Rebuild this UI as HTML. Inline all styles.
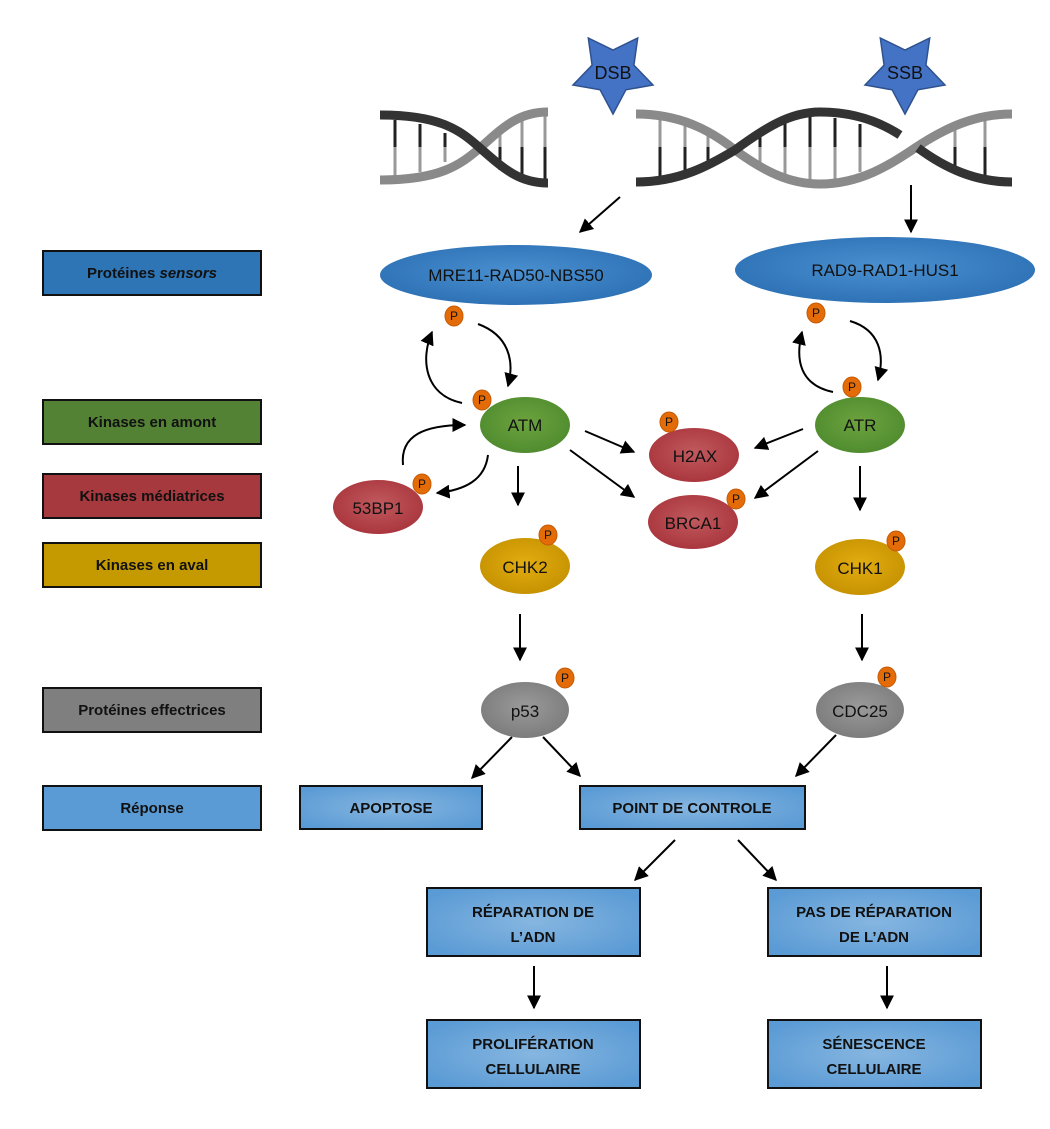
<!DOCTYPE html>
<html><head><meta charset="utf-8"><style>
html,body{margin:0;padding:0;background:#fff;}
svg{display:block;}
text{font-family:"Liberation Sans",sans-serif;}
</style></head><body>
<svg width="1050" height="1129" viewBox="0 0 1050 1129" xmlns="http://www.w3.org/2000/svg">
<defs>
<marker id="ah" viewBox="0 0 10 10" markerWidth="14" markerHeight="14" refX="9" refY="5" orient="auto" markerUnits="userSpaceOnUse"><path d="M0,0 L10,5 L0,10 Z" fill="#000"/></marker>
<radialGradient id="gb" cx="50%" cy="50%" r="60%"><stop offset="0" stop-color="#86b6e0"/><stop offset="1" stop-color="#5b9bd5"/></radialGradient>
<radialGradient id="ggr" cx="50%" cy="45%" r="60%"><stop offset="0" stop-color="#6da33f"/><stop offset="1" stop-color="#4d8a2d"/></radialGradient>
<radialGradient id="gr" cx="50%" cy="45%" r="60%"><stop offset="0" stop-color="#c05a5e"/><stop offset="1" stop-color="#a8333b"/></radialGradient>
<radialGradient id="gy" cx="50%" cy="45%" r="60%"><stop offset="0" stop-color="#e2ad10"/><stop offset="1" stop-color="#c49000"/></radialGradient>
<radialGradient id="gg" cx="50%" cy="45%" r="60%"><stop offset="0" stop-color="#9a9a9a"/><stop offset="1" stop-color="#7a7a7a"/></radialGradient>
<radialGradient id="gbl" cx="50%" cy="45%" r="60%"><stop offset="0" stop-color="#4a90d0"/><stop offset="1" stop-color="#2c70b4"/></radialGradient>
</defs>

<!-- Legend -->
<g stroke="#111" stroke-width="2" font-weight="bold" font-size="15" text-anchor="middle">
<rect x="43" y="251" width="218" height="44" fill="#2e75b6"/>
<rect x="43" y="400" width="218" height="44" fill="#548235"/>
<rect x="43" y="474" width="218" height="44" fill="#a5393d"/>
<rect x="43" y="543" width="218" height="44" fill="#c49a00"/>
<rect x="43" y="688" width="218" height="44" fill="#7f7f7f"/>
<rect x="43" y="786" width="218" height="44" fill="#5b9bd5"/>
</g>
<g font-weight="bold" font-size="15" text-anchor="middle" fill="#111">
<text x="152" y="278">Protéines <tspan font-style="italic">sensors</tspan></text>
<text x="152" y="427">Kinases en amont</text>
<text x="152" y="501">Kinases médiatrices</text>
<text x="152" y="570">Kinases en aval</text>
<text x="152" y="715">Protéines effectrices</text>
<text x="152" y="813">Réponse</text>
</g>

<!-- DNA left -->
<g fill="none" stroke-linecap="butt">
<g stroke="#222" stroke-width="3">
<line x1="395" y1="120" x2="395" y2="147"/><line x1="420" y1="124" x2="420" y2="147"/><line x1="445" y1="133" x2="445" y2="147"/>
<line x1="500" y1="147" x2="500" y2="170"/><line x1="522" y1="147" x2="522" y2="178"/><line x1="545" y1="147" x2="545" y2="182"/>
</g>
<g stroke="#999" stroke-width="3">
<line x1="395" y1="147" x2="395" y2="178"/><line x1="420" y1="147" x2="420" y2="172"/><line x1="445" y1="147" x2="445" y2="162"/>
<line x1="500" y1="126" x2="500" y2="147"/><line x1="522" y1="117" x2="522" y2="147"/><line x1="545" y1="113" x2="545" y2="147"/>
</g>
<path d="M380,180 C440,180 460,165 480,148 C505,125 520,112 548,112" stroke="#8a8a8a" stroke-width="9"/>
<path d="M380,115 C440,115 460,130 480,148 C505,170 520,183 548,183" stroke="#333" stroke-width="9"/>
</g>
<!-- DNA right -->
<g fill="none">
<g stroke="#222" stroke-width="3">
<line x1="660" y1="147" x2="660" y2="182"/><line x1="685" y1="147" x2="685" y2="176"/><line x1="708" y1="147" x2="708" y2="166"/>
<line x1="760" y1="130" x2="760" y2="147"/><line x1="785" y1="120" x2="785" y2="147"/><line x1="810" y1="116" x2="810" y2="147"/><line x1="835" y1="118" x2="835" y2="147"/><line x1="860" y1="124" x2="860" y2="147"/>
<line x1="955" y1="147" x2="955" y2="172"/><line x1="985" y1="147" x2="985" y2="180"/>
</g>
<g stroke="#999" stroke-width="3">
<line x1="660" y1="114" x2="660" y2="147"/><line x1="685" y1="118" x2="685" y2="147"/><line x1="708" y1="128" x2="708" y2="147"/>
<line x1="760" y1="147" x2="760" y2="166"/><line x1="785" y1="147" x2="785" y2="176"/><line x1="810" y1="147" x2="810" y2="181"/><line x1="835" y1="147" x2="835" y2="180"/><line x1="860" y1="147" x2="860" y2="172"/>
<line x1="955" y1="124" x2="955" y2="147"/><line x1="985" y1="116" x2="985" y2="147"/>
</g>
<path d="M636,114 C680,114 710,130 735,150 C765,172 790,184 820,184 C860,184 890,165 915,148 C945,128 975,114 1012,114" stroke="#8a8a8a" stroke-width="9"/>
<path d="M636,182 C680,182 710,165 735,150 C765,128 790,112 820,112 C855,112 880,122 900,135" stroke="#333" stroke-width="9"/>
<path d="M918,148 C945,168 975,182 1012,182" stroke="#333" stroke-width="9"/>
</g>

<!-- Stars -->
<g fill="#4472c4" stroke="#2f528f" stroke-width="1.5">
<polygon points="613,114 600.1,89.8 573,85 592.1,65.2 588.3,38 613,50 637.7,38 633.9,65.2 653,85 625.9,89.8"/>
<polygon transform="translate(292,0)" points="613,114 600.1,89.8 573,85 592.1,65.2 588.3,38 613,50 637.7,38 633.9,65.2 653,85 625.9,89.8"/>
</g>
<g font-size="18" text-anchor="middle" fill="#111"><text x="613" y="79">DSB</text><text x="905" y="79">SSB</text></g>

<!-- Arrows -->
<g stroke="#000" stroke-width="2" fill="none" marker-end="url(#ah)">
<line x1="620" y1="197" x2="580" y2="232"/>
<line x1="911" y1="185" x2="911" y2="232"/>
<path d="M478,324 C508,335 515,360 508,386"/>
<path d="M462,403 C425,395 420,360 432,332"/>
<path d="M850,321 C880,330 885,355 878,380"/>
<path d="M833,392 C800,385 795,360 802,332"/>
<path d="M403,465 C400,435 425,425 465,425"/>
<path d="M488,455 C485,480 465,490 437,493"/>
<line x1="518" y1="466" x2="518" y2="505"/>
<line x1="585" y1="431" x2="634" y2="452"/>
<line x1="570" y1="450" x2="634" y2="497"/>
<line x1="803" y1="429" x2="755" y2="448"/>
<line x1="818" y1="451" x2="755" y2="498"/>
<line x1="860" y1="466" x2="860" y2="510"/>
<line x1="520" y1="614" x2="520" y2="660"/>
<line x1="862" y1="614" x2="862" y2="660"/>
<line x1="512" y1="737" x2="472" y2="778"/>
<line x1="543" y1="737" x2="580" y2="776"/>
<line x1="836" y1="735" x2="796" y2="776"/>
<line x1="675" y1="840" x2="635" y2="880"/>
<line x1="738" y1="840" x2="776" y2="880"/>
<line x1="534" y1="966" x2="534" y2="1008"/>
<line x1="887" y1="966" x2="887" y2="1008"/>
</g>

<!-- Ellipses -->
<ellipse cx="516" cy="275" rx="136" ry="30" fill="url(#gbl)"/>
<ellipse cx="885" cy="270" rx="150" ry="33" fill="url(#gbl)"/>
<ellipse cx="525" cy="425" rx="45" ry="28" fill="url(#ggr)"/>
<ellipse cx="860" cy="425" rx="45" ry="28" fill="url(#ggr)"/>
<ellipse cx="694" cy="455" rx="45" ry="27" fill="url(#gr)"/>
<ellipse cx="693" cy="522" rx="45" ry="27" fill="url(#gr)"/>
<ellipse cx="378" cy="507" rx="45" ry="27" fill="url(#gr)"/>
<ellipse cx="525" cy="566" rx="45" ry="28" fill="url(#gy)"/>
<ellipse cx="860" cy="567" rx="45" ry="28" fill="url(#gy)"/>
<ellipse cx="525" cy="710" rx="44" ry="28" fill="url(#gg)"/>
<ellipse cx="860" cy="710" rx="44" ry="28" fill="url(#gg)"/>
<g font-size="17" text-anchor="middle" fill="#111">
<text x="516" y="281">MRE11-RAD50-NBS50</text>
<text x="885" y="276">RAD9-RAD1-HUS1</text>
<text x="525" y="431">ATM</text>
<text x="860" y="431">ATR</text>
<text x="695" y="462">H2AX</text>
<text x="693" y="529">BRCA1</text>
<text x="378" y="514">53BP1</text>
<text x="525" y="573">CHK2</text>
<text x="860" y="574">CHK1</text>
<text x="525" y="717">p53</text>
<text x="860" y="717">CDC25</text>
</g>

<!-- P circles -->
<g fill="#e36c09" stroke="#c55a05" stroke-width="1">
<ellipse cx="454" cy="316" rx="9" ry="10"/>
<ellipse cx="482" cy="400" rx="9" ry="10"/>
<ellipse cx="669" cy="422" rx="9" ry="10"/>
<ellipse cx="736" cy="499" rx="9" ry="10"/>
<ellipse cx="422" cy="484" rx="9" ry="10"/>
<ellipse cx="548" cy="535" rx="9" ry="10"/>
<ellipse cx="896" cy="541" rx="9" ry="10"/>
<ellipse cx="565" cy="678" rx="9" ry="10"/>
<ellipse cx="887" cy="677" rx="9" ry="10"/>
<ellipse cx="816" cy="313" rx="9" ry="10"/>
<ellipse cx="852" cy="387" rx="9" ry="10"/>
</g>
<g font-size="12" text-anchor="middle" fill="#111">
<text x="454" y="320">P</text><text x="482" y="404">P</text><text x="669" y="426">P</text><text x="736" y="503">P</text>
<text x="422" y="488">P</text><text x="548" y="539">P</text><text x="896" y="545">P</text><text x="565" y="682">P</text>
<text x="887" y="681">P</text><text x="816" y="317">P</text><text x="852" y="391">P</text>
</g>

<!-- Response boxes -->
<g stroke="#111" stroke-width="2" fill="url(#gb)">
<rect x="300" y="786" width="182" height="43"/>
<rect x="580" y="786" width="225" height="43"/>
<rect x="427" y="888" width="213" height="68"/>
<rect x="768" y="888" width="213" height="68"/>
<rect x="427" y="1020" width="213" height="68"/>
<rect x="768" y="1020" width="213" height="68"/>
</g>
<g font-weight="bold" font-size="15" text-anchor="middle" fill="#111">
<text x="391" y="813">APOPTOSE</text>
<text x="692" y="813">POINT DE CONTROLE</text>
<text x="533" y="917">RÉPARATION DE</text><text x="533" y="942">L’ADN</text>
<text x="874" y="917">PAS DE RÉPARATION</text><text x="874" y="942">DE L’ADN</text>
<text x="533" y="1049">PROLIFÉRATION</text><text x="533" y="1074">CELLULAIRE</text>
<text x="874" y="1049">SÉNESCENCE</text><text x="874" y="1074">CELLULAIRE</text>
</g>
</svg>
</body></html>
